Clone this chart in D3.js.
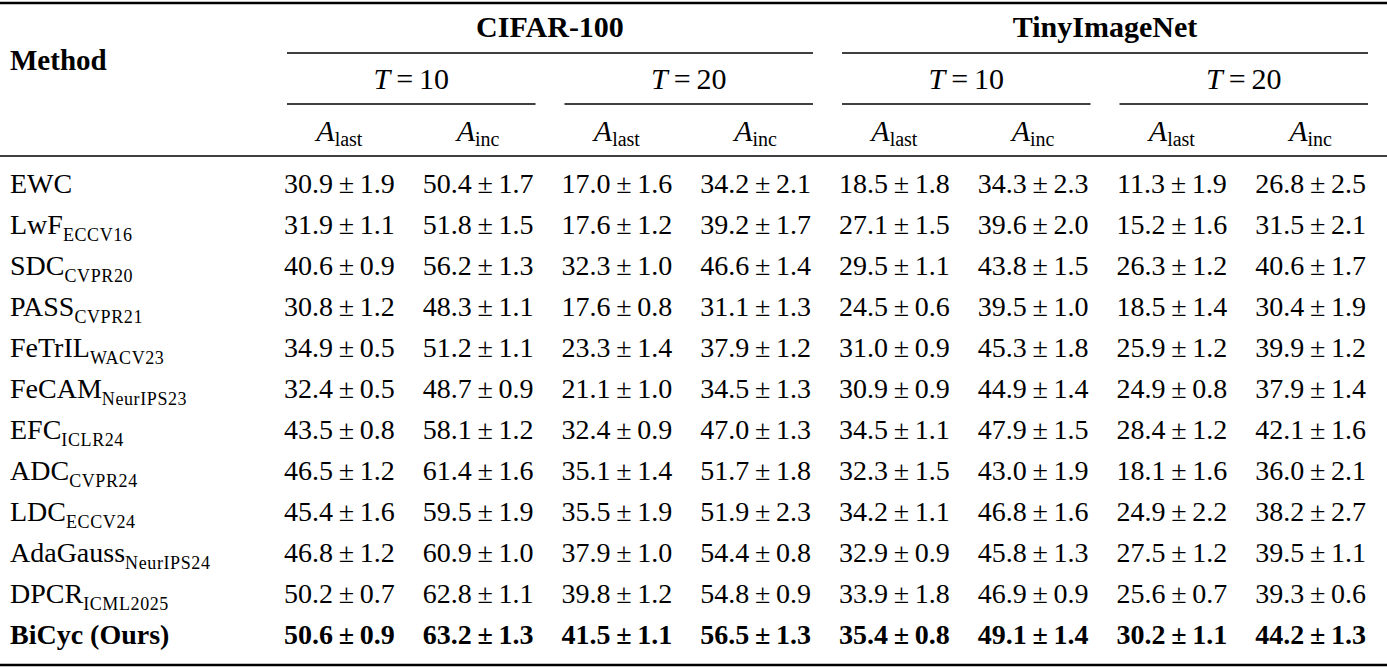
<!DOCTYPE html><html><head><meta charset="utf-8">
<script src="https://cdn.jsdelivr.net/npm/d3@7"></script>
<style>body{margin:0;background:#fff}svg{display:block}</style></head><body>
<svg id="c" width="1387" height="669"></svg>
<script>
const methods=["EWC","LwF","SDC","PASS","FeTrIL","FeCAM","EFC","ADC","LDC","AdaGauss","DPCR","BiCyc (Ours)"];
const venues=["","ECCV16","CVPR20","CVPR21","WACV23","NeurIPS23","ICLR24","CVPR24","ECCV24","NeurIPS24","ICML2025",""];
const datasets=["CIFAR-100","TinyImageNet"];
const tasks=["10","20"];
const metrics=["last","inc"];
const means=[
[30.9,50.4,17.0,34.2,18.5,34.3,11.3,26.8],
[31.9,51.8,17.6,39.2,27.1,39.6,15.2,31.5],
[40.6,56.2,32.3,46.6,29.5,43.8,26.3,40.6],
[30.8,48.3,17.6,31.1,24.5,39.5,18.5,30.4],
[34.9,51.2,23.3,37.9,31.0,45.3,25.9,39.9],
[32.4,48.7,21.1,34.5,30.9,44.9,24.9,37.9],
[43.5,58.1,32.4,47.0,34.5,47.9,28.4,42.1],
[46.5,61.4,35.1,51.7,32.3,43.0,18.1,36.0],
[45.4,59.5,35.5,51.9,34.2,46.8,24.9,38.2],
[46.8,60.9,37.9,54.4,32.9,45.8,27.5,39.5],
[50.2,62.8,39.8,54.8,33.9,46.9,25.6,39.3],
[50.6,63.2,41.5,56.5,35.4,49.1,30.2,44.2]];
const stds=[
[1.9,1.7,1.6,2.1,1.8,2.3,1.9,2.5],
[1.1,1.5,1.2,1.7,1.5,2.0,1.6,2.1],
[0.9,1.3,1.0,1.4,1.1,1.5,1.2,1.7],
[1.2,1.1,0.8,1.3,0.6,1.0,1.4,1.9],
[0.5,1.1,1.4,1.2,0.9,1.8,1.2,1.2],
[0.5,0.9,1.0,1.3,0.9,1.4,0.8,1.4],
[0.8,1.2,0.9,1.3,1.1,1.5,1.2,1.6],
[1.2,1.6,1.4,1.8,1.5,1.9,1.6,2.1],
[1.6,1.9,1.9,2.3,1.1,1.6,2.2,2.7],
[1.2,1.0,1.0,0.8,0.9,1.3,1.2,1.1],
[0.7,1.1,1.2,0.9,1.8,0.9,0.7,0.6],
[0.9,1.3,1.1,1.3,0.8,1.4,1.1,1.3]];

const svg=d3.select("#c");
const F="'Liberation Serif','DejaVu Serif',serif";
const x=d3.scaleBand().domain(d3.range(8)).range([270,1380]);
const y=d3.scaleBand().domain(d3.range(methods.length)).range([163,655]);
const line=(x1,x2,yy,w)=>svg.append("line").attr("x1",x1).attr("x2",x2).attr("y1",yy).attr("y2",yy).attr("stroke","#000").attr("stroke-width",w);
line(0,1387,3,2.5);line(0,1387,156,1.5);line(0,1387,665,2.5);
const T=(s)=>svg.append("text").attr("font-family",F).attr("fill","#000");
T().attr("x",10).attr("y",70).attr("font-size",29).attr("font-weight","bold").text("Method");
datasets.forEach((d,i)=>{
  const x1=x(i*4)+17,x2=x(i*4+3)+x.bandwidth()-12;
  T().attr("x",(x1+x2)/2).attr("y",37).attr("text-anchor","middle").attr("font-size",30).attr("font-weight","bold").text(d);
  line(x1,x2,53,1.3);
  tasks.forEach((t,j)=>{
    const a=x(i*4+j*2)+17,b=x(i*4+j*2+1)+x.bandwidth()-12;
    const tt=T().attr("x",(a+b)/2).attr("y",89).attr("text-anchor","middle").attr("font-size",30);
    tt.append("tspan").attr("font-style","italic").text("T");
    tt.append("tspan").text("\u2009=\u2009" + t);
    line(a,b,104,1.3);
  });
});
d3.range(8).forEach(c=>{
  const tt=T().attr("x",x(c)+x.bandwidth()/2).attr("y",141).attr("text-anchor","middle").attr("font-size",30);
  tt.append("tspan").attr("font-style","italic").text("A");
  tt.append("tspan").attr("font-size",20).attr("dy",5).text(metrics[c%2]);
});
methods.forEach((m,r)=>{
  const bold=r===methods.length-1;
  const yy=y(r)+y.bandwidth()/2+9;
  const t=T().attr("x",10).attr("y",yy).attr("font-size",28).attr("font-weight",bold?"bold":"normal");
  t.append("tspan").text(m);
  if(venues[r]) t.append("tspan").attr("font-size",18).attr("dy",7).attr("letter-spacing",0.6).text(venues[r].toUpperCase().replace("NEURIPS","NeurIPS"));
  means[r].forEach((v,c)=>{
    T().attr("x",x(c)+x.bandwidth()/2).attr("y",yy).attr("text-anchor","middle").attr("font-size",28)
      .attr("font-weight",bold?"bold":"normal").text(v.toFixed(1)+"\u2009±\u2009"+stds[r][c].toFixed(1));
  });
});
</script></body></html>
